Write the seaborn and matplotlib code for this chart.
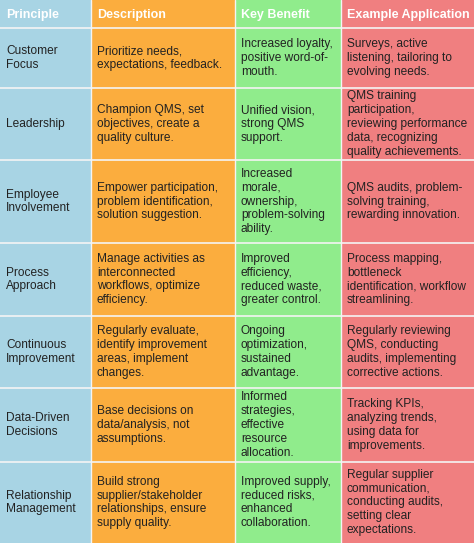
import matplotlib
matplotlib.use("Agg")
import matplotlib.pyplot as plt
import seaborn as sns

sns.set_style("white")
plt.rcParams['font.family'] = ['Liberation Sans', 'DejaVu Sans']

headers = ["Principle", "Description", "Key Benefit", "Example Application"]
principles = ["Customer\nFocus", "Leadership", "Employee\nInvolvement", "Process\nApproach",
              "Continuous\nImprovement", "Data-Driven\nDecisions", "Relationship\nManagement"]
descriptions = ["Prioritize needs,\nexpectations, feedback.",
                "Champion QMS, set\nobjectives, create a\nquality culture.",
                "Empower participation,\nproblem identification,\nsolution suggestion.",
                "Manage activities as\ninterconnected\nworkflows, optimize\nefficiency.",
                "Regularly evaluate,\nidentify improvement\nareas, implement\nchanges.",
                "Base decisions on\ndata/analysis, not\nassumptions.",
                "Build strong\nsupplier/stakeholder\nrelationships, ensure\nsupply quality."]
benefits = ["Increased loyalty,\npositive word-of-\nmouth.",
            "Unified vision,\nstrong QMS\nsupport.",
            "Increased\nmorale,\nownership,\nproblem-solving\nability.",
            "Improved\nefficiency,\nreduced waste,\ngreater control.",
            "Ongoing\noptimization,\nsustained\nadvantage.",
            "Informed\nstrategies,\neffective\nresource\nallocation.",
            "Improved supply,\nreduced risks,\nenhanced\ncollaboration."]
examples = ["Surveys, active\nlistening, tailoring to\nevolving needs.",
            "QMS training\nparticipation,\nreviewing performance\ndata, recognizing\nquality achievements.",
            "QMS audits, problem-\nsolving training,\nrewarding innovation.",
            "Process mapping,\nbottleneck\nidentification, workflow\nstreamlining.",
            "Regularly reviewing\nQMS, conducting\naudits, implementing\ncorrective actions.",
            "Tracking KPIs,\nanalyzing trends,\nusing data for\nimprovements.",
            "Regular supplier\ncommunication,\nconducting audits,\nsetting clear\nexpectations."]
columns = [principles, descriptions, benefits, examples]

# layout (pixels)
col_edges = [0, 91, 235, 341, 474]
row_edges = [0, 28, 88, 160, 243, 316, 388, 462, 543]
col_colors = ["#a8d4e4", "#fbad3e", "#90ec8c", "#f07f80"]

W, H = 474, 543
fig = plt.figure(figsize=(4.74, 5.43), dpi=100)
ax = fig.add_axes([0, 0, 1, 1])
ax.set_xlim(0, W)
ax.set_ylim(H, 0)
ax.axis("off")

for c in range(4):
    ax.bar(col_edges[c], H, width=col_edges[c+1]-col_edges[c], bottom=0,
           align="edge", color=col_colors[c], linewidth=0)
    ax.text(col_edges[c] + 6, (row_edges[0]+row_edges[1])/2 + 1, headers[c],
            color="white", fontsize=9.0, fontweight="bold", va="center", ha="left")
    for r, txt in enumerate(columns[c]):
        y = (row_edges[r+1] + row_edges[r+2]) / 2
        ax.text(col_edges[c] + 6, y, txt, color="#222222", fontsize=8.6,
                va="center", ha="left", linespacing=1.22)

for y in row_edges[1:-1]:
    ax.axhline(y, color="#f4f4f4", linewidth=1.2)
for x in col_edges[1:-1]:
    ax.axvline(x, color="#f4f4f4", linewidth=1.0)

fig.savefig("out.png", dpi=100)
